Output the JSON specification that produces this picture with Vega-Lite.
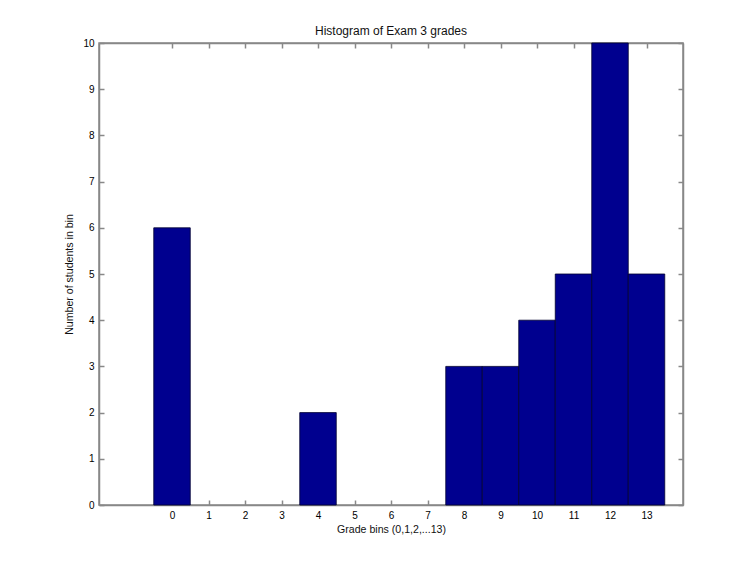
{
  "$schema": "https://vega.github.io/schema/vega-lite/v6.json",
  "autosize": "none",
  "width": 584,
  "height": 462,
  "padding": {"left": 99, "top": 43, "right": 71, "bottom": 61},
  "background": "white",
  "title": {"text": "Histogram of Exam 3 grades", "fontSize": 12, "fontWeight": "normal", "font": "Liberation Sans", "offset": 0, "color": "#111"},
  "config": {
    "view": {"stroke": "#888", "strokeWidth": 1.5},
    "axis": {"labelFont": "Liberation Sans", "titleFont": "Liberation Sans", "labelFontSize": 10, "titleFontSize": 10.6, "titleFontWeight": "normal", "labelColor": "#000", "titleColor": "#111", "grid": false, "domainColor": "#888", "tickColor": "#888", "domainWidth": 1.5, "tickWidth": 1.5}
  },
  "data": {"values": [
    {"grade": 0, "count": 6},
    {"grade": 4, "count": 2},
    {"grade": 8, "count": 3},
    {"grade": 9, "count": 3},
    {"grade": 10, "count": 4},
    {"grade": 11, "count": 5},
    {"grade": 12, "count": 10},
    {"grade": 13, "count": 5}
  ]},
  "transform": [
    {"calculate": "datum.grade - 0.5", "as": "lo"},
    {"calculate": "datum.grade + 0.5", "as": "hi"}
  ],
  "layer": [
    {
      "mark": {"type": "rect", "color": "#00008f", "stroke": "#000030", "strokeWidth": 0.8},
      "encoding": {
        "x": {"field": "lo", "type": "quantitative", "scale": {"domain": [-2, 14], "nice": false, "zero": false},
          "axis": {"orient": "bottom", "values": [0,1,2,3,4,5,6,7,8,9,10,11,12,13], "tickSize": -5, "labelPadding": 10, "title": "Grade bins (0,1,2,...13)", "titlePadding": 4, "labelFlush": false}},
        "x2": {"field": "hi"},
        "y": {"field": "count", "type": "quantitative", "scale": {"domain": [0, 10], "nice": false},
          "axis": {"orient": "left", "values": [0,1,2,3,4,5,6,7,8,9,10], "tickSize": -5, "labelPadding": 10, "title": "Number of students in bin", "titlePadding": 8, "labelFlush": false}},
        "y2": {"datum": 0}
      }
    },
    {
      "mark": {"type": "rule", "opacity": 0},
      "encoding": {
        "x": {"field": "grade", "type": "quantitative", "axis": {"orient": "top", "values": [0,1,2,3,4,5,6,7,8,9,10,11,12,13], "tickSize": -5, "labels": false, "title": null}},
        "y": {"field": "count", "type": "quantitative", "axis": {"orient": "right", "values": [0,1,2,3,4,5,6,7,8,9,10], "tickSize": -5, "labels": false, "title": null}}
      }
    }
  ],
  "resolve": {"axis": {"x": "independent", "y": "independent"}}
}
